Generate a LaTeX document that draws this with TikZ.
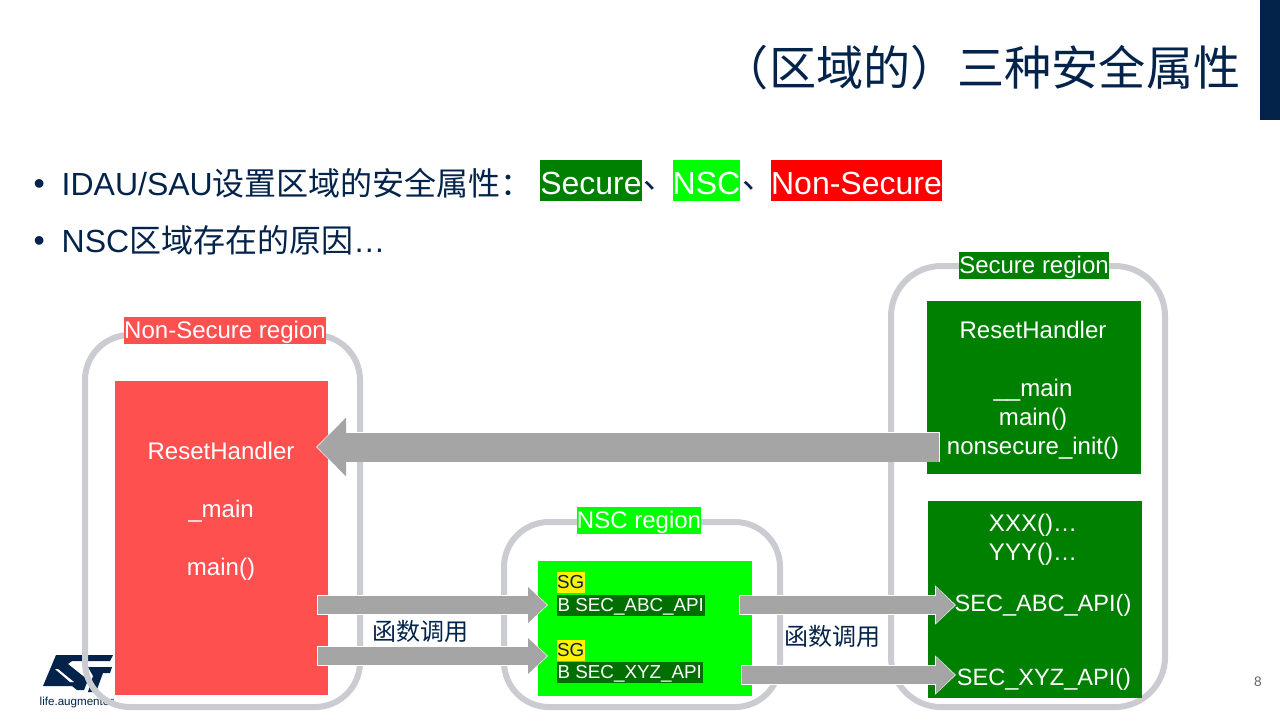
\documentclass[tikz,border=0pt]{standalone}
\usepackage{fontspec}
\setmainfont{Liberation Sans}
\newfontfamily\cjk{Noto Sans CJK SC}
\usetikzlibrary{arrows.meta}
\definecolor{stblue}{HTML}{03234B}
\definecolor{secgreen}{HTML}{008000}
\definecolor{nscgreen}{HTML}{00FF00}
\definecolor{nsred}{HTML}{FF5050}
\definecolor{apigreen}{HTML}{006F00}
\definecolor{framegray}{HTML}{CBCCD1}
\definecolor{arrowgray}{HTML}{A5A5A5}
\tikzset{
  regionframe/.style={draw=framegray, line width=0.06cm, rounded corners=0.45cm},
  regionlabel/.style={font=\fontsize{6.83pt}{8.25pt}\selectfont, text=white, inner sep=0pt, minimum height=0.27cm, text height=6.2pt, text depth=1.45pt},
  boxtext/.style={font=\fontsize{6.83pt}{8.25pt}\selectfont, text=white, align=center, inner sep=0pt},
  apitext/.style={font=\fontsize{5.35pt}{6.5pt}\selectfont, text=white, inner sep=0pt, anchor=west, minimum height=0.21cm, text height=4.6pt, text depth=1.2pt},
  sgtext/.style={apitext, fill=yellow, text=stblue},
  bulletline/.style={font=\fontsize{9.1pt}{11pt}\selectfont, text=stblue, inner sep=0pt, anchor=west},
  keyword/.style={font=\fontsize{9.1pt}{11pt}\selectfont, text=white, inner sep=0pt, minimum height=0.41cm, text height=9.4pt, text depth=1.2pt},
  callnote/.style={font=\fontsize{6.83pt}{8.25pt}\selectfont, text=stblue, inner sep=0pt},
  bigarrow/.style={draw=arrowgray, line width=0.18cm, -{Triangle[length=0.19cm, width=0.35cm]},
    preaction={draw=white, line width=0.195cm, shorten <=-0.01cm, shorten >=-0.01cm, -{Triangle[length=0.21cm, width=0.38cm]}}},
  widearrow/.style={draw=arrowgray, line width=0.29cm, -{Triangle[length=0.29cm, width=0.57cm]},
    preaction={draw=white, line width=0.305cm, shorten <=-0.01cm, shorten >=-0.01cm, -{Triangle[length=0.31cm, width=0.6cm]}}}
}
\begin{document}
\begin{tikzpicture}[x=0.01cm, y=-0.01cm]
  \useasboundingbox (0,0) rectangle (1280,720);
  \fill [white] (0,0) rectangle (1280,720);

  % Drawing corner bar and page number
  \fill [stblue] (1260,0) rectangle (1280,120);
  \node (pagenum) [font=\fontsize{3.9pt}{5pt}\selectfont, text=black!60, inner sep=0pt] at (1258,682) {8};

  % Drawing title
  \node (title) [font=\fontsize{13.4pt}{16pt}\cjk, text=stblue, inner sep=0pt, anchor=east] at (1241,68) {（区域的）三种安全属性};

  % Drawing bullets
  \node (bulleta) [bulletline] at (33,187) {•};
  \node (linea) [bulletline] at (61,183) {IDAU/SAU{\cjk 设置区域的安全属性：}};
  \node (bulletb) [bulletline] at (33,244) {•};
  \node (lineb) [bulletline] at (61,240) {NSC{\cjk 区域存在的原因}…};
  \node (kwsecure) [keyword, fill=secgreen, minimum width=1cm] at (591,180.5) {Secure};
  \node (kwcommaa) [bulletline] at (643,186) {\cjk 、};
  \node (kwnsc) [keyword, fill=nscgreen, minimum width=0.67cm] at (706.5,180.5) {NSC};
  \node (kwcommab) [bulletline] at (742,186) {\cjk 、};
  \node (kwnonsec) [keyword, fill=red, minimum width=1.69cm] at (856.5,180.5) {Non-Secure};

  % Drawing ST logo
  \begin{scope}
    \clip (0,640) rectangle (113,720);
    \fill [stblue] (56,655) -- (113,655) -- (110,661) -- (72,661) -- (68,664) -- (88,680) -- (84,690) -- (77,690) -- (72,686) -- (43,686) -- cycle;
    \fill [white] (55,669) -- (58,669) -- (74,682) -- (70,682) -- cycle;
    \fill [stblue] (88,667) -- (112,667) -- (110,673) -- (103,673) -- (96,692) -- (88,692) -- (93,676) -- cycle;
    \node (logotext) [font=\fontsize{3.3pt}{4pt}\selectfont, text=stblue, inner sep=0pt, anchor=west] at (39,702) {life.augmented};
  \end{scope}

  % Drawing region frames
  \draw [regionframe] (85,335) rectangle (360,707);
  \draw [regionframe] (504,522) rectangle (780,707);
  \draw [regionframe, rounded corners=0.5cm] (891,266) rectangle (1165,707);

  % Drawing region labels
  \node (nslabel) [regionlabel, fill=nsred, minimum width=2.02cm] at (225,330.5) {Non-Secure region};
  \node (nsclabel) [regionlabel, fill=nscgreen, minimum width=1.24cm] at (639,520) {NSC region};
  \node (seclabel) [regionlabel, fill=secgreen, minimum width=1.5cm] at (1034,265.5) {Secure region};

  % Drawing Non-Secure box
  \node (nsbox) [fill=nsred, inner sep=0pt, minimum width=2.13cm, minimum height=3.14cm] at (221.5,538) {};
  \node (nstext) [boxtext] at (221,511) {ResetHandler\\\\\_main\\\\main()};

  % Drawing NSC box
  \node (nscbox) [fill=nscgreen, inner sep=0pt, minimum width=2.14cm, minimum height=1.35cm] at (645,628.5) {};
  \node (sga) [sgtext, minimum width=0.28cm] at (556,582.5) {SG};
  \node (abcveneer) [apitext, fill=apigreen, minimum width=1.48cm] at (556,605.5) {B SEC\_ABC\_API};
  \node (sgb) [sgtext, minimum width=0.28cm] at (556,650.5) {SG};
  \node (xyzveneer) [apitext, fill=apigreen, minimum width=1.46cm] at (556,672.5) {B SEC\_XYZ\_API};

  % Drawing Secure boxes
  \node (initbox) [fill=secgreen, inner sep=0pt, minimum width=2.14cm, minimum height=1.73cm] at (1034,387.5) {};
  \node (inittext) [boxtext] at (1033,390) {ResetHandler\\\\\_\_main\\main()\\nonsecure\_init()};
  \node (apibox) [fill=secgreen, inner sep=0pt, minimum width=2.14cm, minimum height=1.97cm] at (1035,599.5) {};
  \node (othertext) [boxtext] at (1033,540) {XXX()…\\YYY()…};
  \node (abcapi) [boxtext, font=\fontsize{6.7pt}{8.25pt}\selectfont] at (1043,605) {SEC\_ABC\_API()};
  \node (xyzapi) [boxtext, font=\fontsize{6.7pt}{8.25pt}\selectfont] at (1044,679) {SEC\_XYZ\_API()};

  % Marking arrow ends
  \coordinate (inittail) at (939,447);
  \coordinate (inithead) at (317,447);
  \coordinate (abctail) at (317.5,605);
  \coordinate (abchead) at (547,605);
  \coordinate (xyztail) at (317.5,656);
  \coordinate (xyzhead) at (547,656);
  \coordinate (calltail) at (739.5,605);
  \coordinate (callhead) at (955,605);
  \coordinate (jumptail) at (741.5,675);
  \coordinate (jumphead) at (955,675);

  % Drawing arrows
  \draw [widearrow] (inittail) -- (inithead);
  \draw [bigarrow] (abctail) -- (abchead);
  \draw [bigarrow] (xyztail) -- (xyzhead);
  \draw [bigarrow] (calltail) -- (callhead);
  \draw [bigarrow] (jumptail) -- (jumphead);

  % Drawing call notes
  \node (callnotea) [callnote] at (420.5,631) {\cjk 函数调用};
  \node (callnoteb) [callnote] at (832.5,636) {\cjk 函数调用};
\end{tikzpicture}
\end{document}
